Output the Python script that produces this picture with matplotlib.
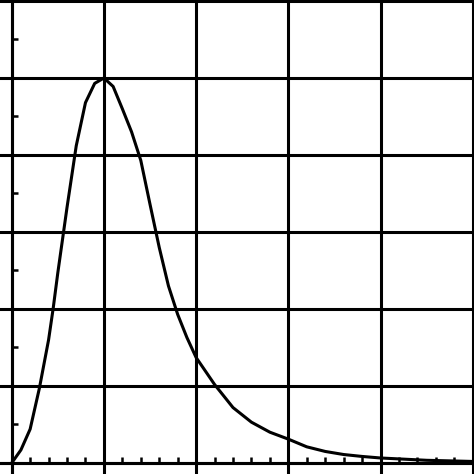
import matplotlib
matplotlib.use("Agg")
import matplotlib.pyplot as plt
from matplotlib.ticker import MultipleLocator, NullFormatter

# values (x in grid units, y in grid units)
x_vals = [0, 0.1, 0.2, 0.3, 0.4, 0.45, 0.5, 0.6, 0.7, 0.8, 0.9, 1.0,
          1.1, 1.2, 1.3, 1.4, 1.5, 1.6, 1.7, 1.8, 1.9, 2.0,
          2.2, 2.4, 2.6, 2.8, 3.0, 3.2, 3.4, 3.6, 3.8, 4.0, 4.5, 5.0]
y_vals = [0, 0.17, 0.44, 0.97, 1.6, 2.01, 2.47, 3.32, 4.12, 4.68, 4.93, 5.0,
          4.89, 4.6, 4.3, 3.93, 3.36, 2.8, 2.3, 1.93, 1.63, 1.37,
          1.02, 0.72, 0.53, 0.40, 0.31, 0.21, 0.15, 0.11, 0.085, 0.065, 0.035, 0.02]

fig = plt.figure(figsize=(4.74, 4.74), dpi=100)
ax = fig.add_axes([0, 0, 1, 1])

ax.plot(x_vals, y_vals, color="black", lw=2.2, solid_joinstyle="round", zorder=3)

ax.set_xlim(-0.127, 5.014)
ax.set_ylim(-0.143, 6.013)

ax.xaxis.set_major_locator(MultipleLocator(1))
ax.yaxis.set_major_locator(MultipleLocator(1))
ax.xaxis.set_minor_locator(MultipleLocator(0.2))
ax.yaxis.set_minor_locator(MultipleLocator(0.5))
ax.xaxis.set_major_formatter(NullFormatter())
ax.yaxis.set_major_formatter(NullFormatter())

ax.grid(True, which="major", color="black", lw=2.2)

for side in ["top", "right"]:
    ax.spines[side].set_visible(False)
ax.spines["left"].set_position(("data", 0))
ax.spines["bottom"].set_position(("data", 0))
ax.spines["left"].set_linewidth(2.2)
ax.spines["bottom"].set_linewidth(2.2)

ax.tick_params(which="major", length=0)
ax.tick_params(which="minor", direction="in", length=4, width=1.8, color="black")

fig.savefig("out.png", dpi=100)
